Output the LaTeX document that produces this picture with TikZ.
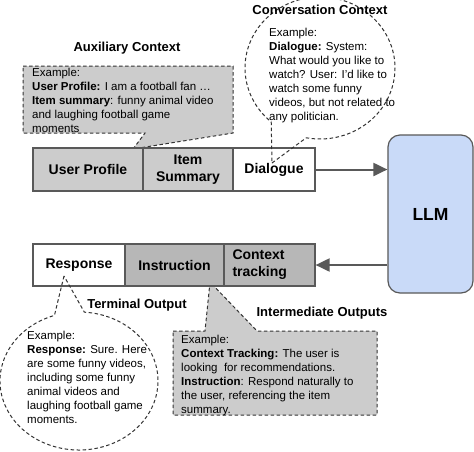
\documentclass[tikz,border=0pt]{standalone}
\usepackage{fontspec}
\setmainfont{Liberation Sans}
\usepackage{xcolor}
\usepackage{tikz}
\usetikzlibrary{shapes.callouts,arrows.meta}

\definecolor{cellgray}{HTML}{CCCCCC}
\definecolor{darkcell}{HTML}{B7B7B7}
\definecolor{llmblue}{HTML}{C9DAF8}
\definecolor{edgegray}{HTML}{595959}

\begin{document}
\begin{tikzpicture}[x=1pt,y=-1pt,
    cell/.style={draw=edgegray,line width=1.2pt,minimum height=43pt,inner sep=0pt,font=\fontsize{14}{17}\selectfont\bfseries,align=center},
    hint/.style={draw=black!80,dash pattern=on 3.5pt off 2.5pt,line width=1pt},
    title/.style={font=\fontsize{13}{15}\selectfont\bfseries},
    example/.style={anchor=north west,inner sep=0pt,align=left,font=\fontsize{11.5}{14}\selectfont},
    feed/.style={line width=2pt,draw=edgegray,-{Triangle[length=14pt,width=13pt]}}]

    \useasboundingbox[fill=white] (0,0) rectangle (474,451);

    % callout boxes
    \filldraw[hint,fill=cellgray] (23,66) -- (233,66) -- (233,133) -- (133,149) -- (145,133) -- (23,133) -- cycle;
    \filldraw[hint,fill=cellgray] (173,331) -- (205,331) -- (210,282) -- (257,331) -- (377,331) -- (377,415) -- (173,415) -- cycle;

    % input row
    \node[cell,fill=cellgray,minimum width=110pt] (profile) at (88,169.5) {User Profile};
    \node[cell,fill=cellgray,minimum width=90pt] (summary) at (188,169.5) {Item\\Summary};
    \node[cell,fill=white,minimum width=82pt] (dialogue) at (274,169.5) {Dialogue};

    % output row
    \node[cell,fill=white,minimum width=92pt,minimum height=42pt] (response) at (79,265) {Response};
    \node[cell,fill=darkcell,minimum width=99pt,minimum height=42pt] (instruction) at (174.5,265) {Instruction};
    \node[cell,fill=darkcell,minimum width=91pt,minimum height=42pt,text width=74pt,align=left] (tracking) at (269.5,265) {Context\\tracking};

    \node[draw=edgegray,line width=1.2pt,fill=llmblue,rounded corners=12pt,minimum width=85pt,minimum height=158pt,font=\fontsize{17.5}{20}\selectfont\bfseries] (llm) at (430.5,214) {LLM};

    \draw[feed] (dialogue.east) -- (llm.west |- dialogue.east);
    \draw[feed] (llm.west |- tracking.east) -- (tracking.east);

    % speech bubbles
    \coordinate (convtip) at (272,163);
    \coordinate (resptip) at (64,276);
    \node[hint,ellipse callout,minimum width=150pt,minimum height=142pt,inner sep=0pt,callout absolute pointer=(convtip),callout pointer arc=30] (convbubble) at (320,68) {};
    \node[hint,ellipse callout,minimum width=158pt,minimum height=138pt,inner sep=0pt,callout absolute pointer=(resptip),callout pointer arc=22] (respbubble) at (79,381) {};

    \node[title] (auxtitle) at (127,48) {Auxiliary Context};
    \node[title] (convtitle) at (320,10) {Conversation Context};
    \node[title] (termtitle) at (137,305) {Terminal Output};
    \node[title] (midtitle) at (322,313) {Intermediate Outputs};

    \node[example] (auxtext) at (32,68) {Example:\\\textbf{User Profile:} I am a football fan …\\\textbf{Item summary}: funny animal video\\and laughing football game\\moments};
    \node[example] (convtext) at (269,28) {Example:\\\textbf{Dialogue:} System:\\What would you like to\\watch? User: I'd like to\\watch some funny\\videos, but not related to\\any politician.};
    \node[example] (resptext) at (27,331) {Example:\\\textbf{Response:} Sure. Here\\are some funny videos,\\including some funny\\animal videos and\\laughing football game\\moments.};
    \node[example] (midtext) at (181,335) {Example:\\\textbf{Context Tracking:} The user is\\looking\ \ for recommendations.\\\textbf{Instruction}: Respond naturally to\\the user, referencing the item\\summary.};
\end{tikzpicture}
\end{document}
